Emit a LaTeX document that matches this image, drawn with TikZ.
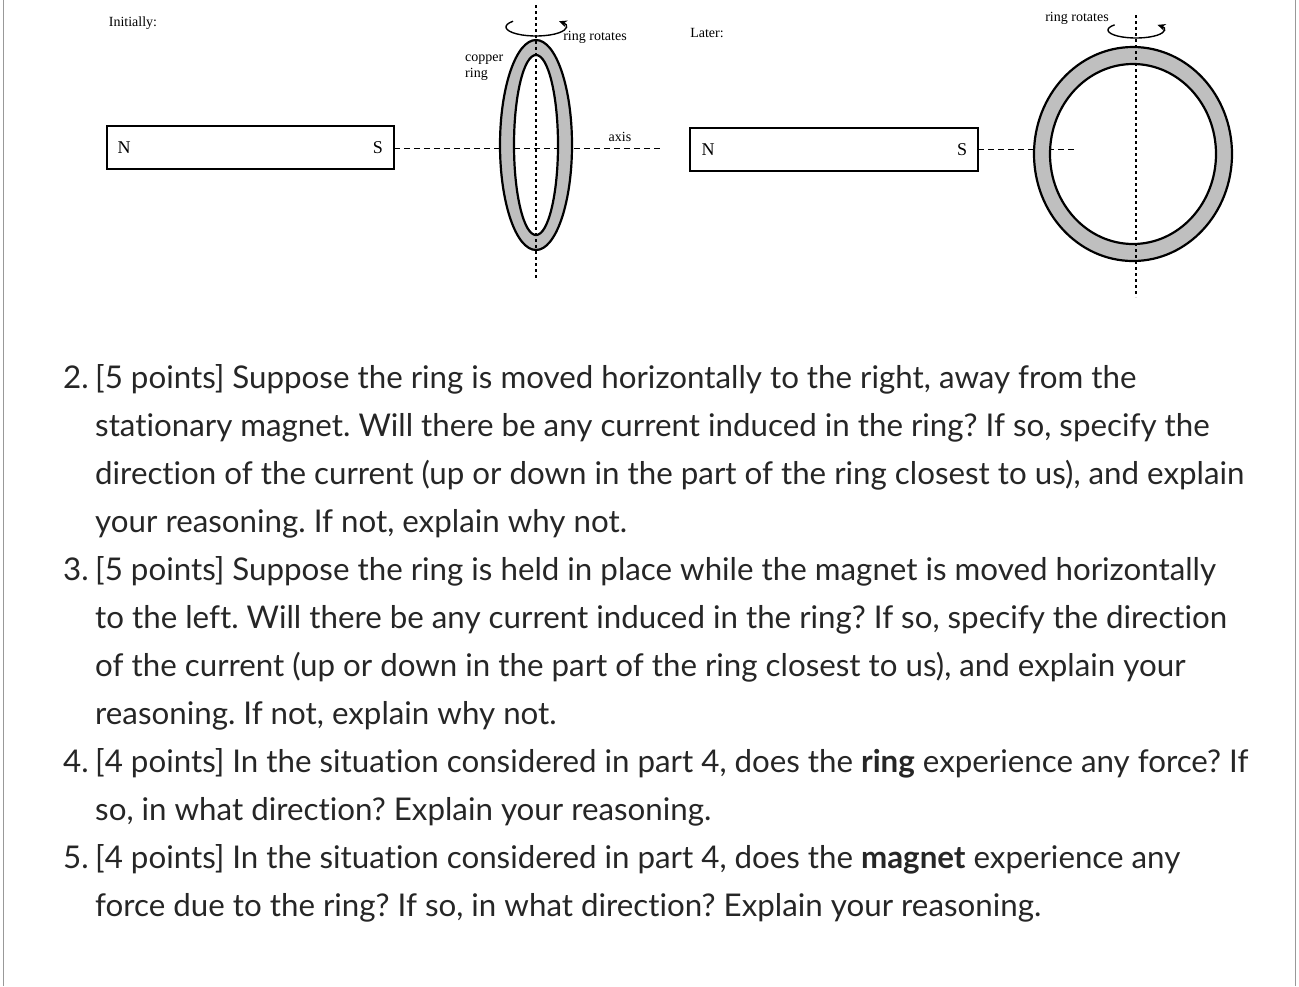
\documentclass[tikz,border=0pt]{standalone}
\usepackage{fontspec}
\setmainfont{Liberation Serif}
\newfontfamily\lato{Lato}[Ligatures=NoCommon]
\usetikzlibrary{arrows.meta}
\frenchspacing
\begin{document}
\begin{tikzpicture}[x=1pt,y=-1pt,
  lbl/.style={font=\fontsize{14}{16}\selectfont, inner sep=0pt},
  pole/.style={font=\fontsize{18}{20}\selectfont, inner sep=0pt},
  magnet/.style={draw, line width=2pt},
  ringfill/.style={fill=black!25, draw, line width=2.2pt, even odd rule},
  axisd/.style={dashed, line width=1pt, dash pattern=on 6pt off 4pt},
  vaxis/.style={line width=1.3pt, dash pattern=on 3pt off 3pt},
  rot/.style={line width=1.4pt, -{Stealth[length=8pt,width=7pt]}},
  body/.style={font=\lato\fontsize{31.3}{34}\selectfont\frenchspacing, anchor=base west, inner sep=0pt, color=black!85}]
\useasboundingbox (0,0) rectangle (1299,986);
\draw[black!40, line width=1pt] (3,0) -- (3,986) (1295,0) -- (1295,986);
% left
\node[lbl] (ini) at (133,23) {Initially:};
\draw[magnet] (107,126) rectangle (394,169);
\node[pole] (n1) at (124,148) {N};
\node[pole] (s1) at (378,148) {S};
\draw[axisd] (394,148) -- (660,148);
\draw[ringfill] (536,145) ellipse [x radius=36, y radius=105] (536,145) ellipse [x radius=22, y radius=90];
\draw[vaxis] (536,5) -- (536,280);
\draw[rot] (536,27) ++(220:30 and 9) arc[start angle=220, end angle=-40, x radius=30, y radius=9];
\node[lbl] (rr1) at (595,37) {ring rotates};
\node[lbl, align=left, anchor=north west] (cr) at (465,55) {copper\\ring};
\node[lbl] (ax) at (620,137) {axis};
% right
\node[lbl] (lat) at (707,33) {Later:};
\draw[magnet] (690,128) rectangle (978,171);
\node[pole] (n2) at (708,150) {N};
\node[pole] (s2) at (962,150) {S};
\draw[axisd] (978,149) -- (1077,149);
\draw[ringfill] (1133,154) ellipse [x radius=99, y radius=107] (1133,154) ellipse [x radius=83, y radius=90];
\draw[vaxis] (1136,15) -- (1136,297);
\draw[rot] (1136,30) ++(220:28 and 8) arc[start angle=220, end angle=-40, x radius=28, y radius=8];
\node[lbl] (rr2) at (1077,18) {ring rotates};
% text
\node[body] at (63,388) {2.};
\node[body] at (95,388) {[5 points] Suppose the ring is moved horizontally to the right, away from the};
\node[body] at (95,436) {stationary magnet. Will there be any current induced in the ring? If so, specify the};
\node[body] at (95,484) {direction of the current (up or down in the part of the ring closest to us), and explain};
\node[body] at (95,532) {your reasoning. If not, explain why not.};
\node[body] at (63,580) {3.};
\node[body] at (95,580) {[5 points] Suppose the ring is held in place while the magnet is moved horizontally};
\node[body] at (95,628) {to the left. Will there be any current induced in the ring? If so, specify the direction};
\node[body] at (95,676) {of the current (up or down in the part of the ring closest to us), and explain your};
\node[body] at (95,724) {reasoning. If not, explain why not.};
\node[body] at (63,772) {4.};
\node[body] at (95,772) {[4 points] In the situation considered in part 4, does the \textbf{ring} experience any force? If};
\node[body] at (95,820) {so, in what direction? Explain your reasoning.};
\node[body] at (63,868) {5.};
\node[body] at (95,868) {[4 points] In the situation considered in part 4, does the \textbf{magnet} experience any};
\node[body] at (95,916) {force due to the ring? If so, in what direction? Explain your reasoning.};
\end{tikzpicture}
\end{document}
